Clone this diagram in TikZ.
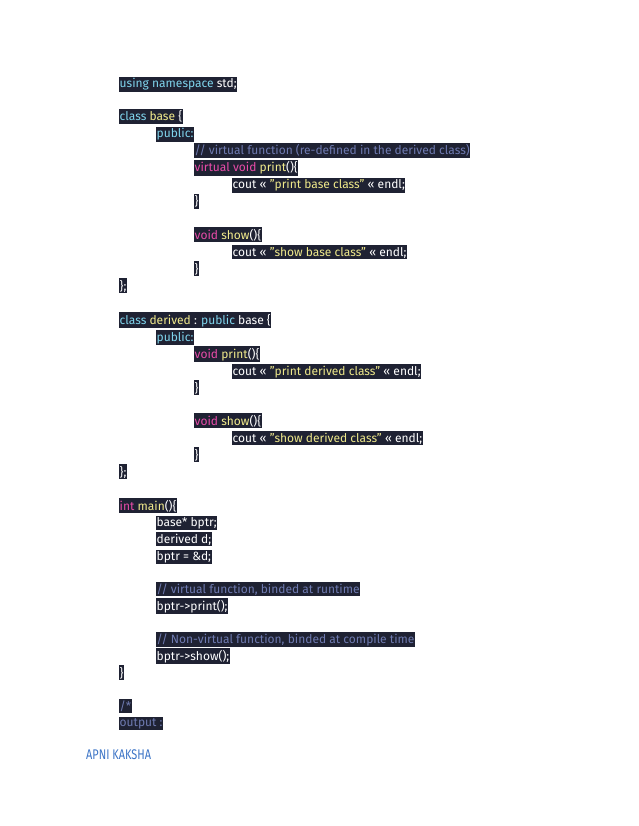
\documentclass[tikz,border=0pt]{standalone}
\usepackage{fontspec}
\setmainfont{Fira Sans}
\usepackage{graphicx}
\definecolor{bgc}{HTML}{1F2233}
\definecolor{kw}{HTML}{7FD4EC}
\definecolor{nm}{HTML}{F2EB8C}
\definecolor{pk}{HTML}{E84BA8}
\definecolor{cm}{HTML}{6E7AB0}
\definecolor{st}{HTML}{EEE88A}
\definecolor{ak}{HTML}{3C74C6}
\newcommand{\cKw}[1]{\textcolor{kw}{#1}}
\newcommand{\cNm}[1]{\textcolor{nm}{#1}}
\newcommand{\cPk}[1]{\textcolor{pk}{#1}}
\newcommand{\cCm}[1]{\textcolor{cm}{#1}}
\newcommand{\cSt}[1]{\textcolor{st}{#1}}
\begin{document}
\begin{tikzpicture}[x=1pt,y=-1pt,
  cl/.style={anchor=base west,fill=bgc,text=white,inner xsep=0.5pt,inner ysep=1.5pt,font=\fontsize{12}{14}\selectfont}]
\useasboundingbox (0,0) rectangle (638,826);
\def\a{119}\def\b{156}\def\c{194}\def\d{232}
\node[cl] (l1) at (\a,88) {\cKw{using namespace} std;};
\node[cl] (l2) at (\a,121) {\cKw{class} \cNm{base} \{};
\node[cl] (l3) at (\b,138) {\cKw{public:}};
\node[cl] (l4) at (\c,155) {\cCm{// virtual function (re-defined in the derived class)}};
\node[cl] (l5) at (\c,172) {\cPk{virtual void} \cNm{print}()\{};
\node[cl] (l6) at (\d,189) {cout << \cSt{"print base class"} << endl;};
\node[cl] (l7) at (\c,206) {\}};
\node[cl] (l8) at (\c,239) {\cPk{void} \cNm{show}()\{};
\node[cl] (l9) at (\d,256) {cout << \cSt{"show base class"} << endl;};
\node[cl] (l10) at (\c,273) {\}};
\node[cl] (l11) at (\a,290) {\};};
\node[cl] (l12) at (\a,324) {\cKw{class} \cNm{derived} : \cKw{public} base \{};
\node[cl] (l13) at (\b,341) {\cKw{public:}};
\node[cl] (l14) at (\c,358) {\cPk{void} \cNm{print}()\{};
\node[cl] (l15) at (\d,375) {cout << \cSt{"print derived class"} << endl;};
\node[cl] (l16) at (\c,392) {\}};
\node[cl] (l17) at (\c,425) {\cPk{void} \cNm{show}()\{};
\node[cl] (l18) at (\d,442) {cout << \cSt{"show derived class"} << endl;};
\node[cl] (l19) at (\c,459) {\}};
\node[cl] (l20) at (\a,476) {\};};
\node[cl] (l21) at (\a,510) {\cPk{int} \cNm{main}()\{};
\node[cl] (l22) at (\b,526) {base* bptr;};
\node[cl] (l23) at (\b,543) {derived d;};
\node[cl] (l24) at (\b,560) {bptr = \&d;};
\node[cl] (l25) at (\b,593) {\cCm{// virtual function, binded at runtime}};
\node[cl] (l26) at (\b,610) {bptr->print();};
\node[cl] (l27) at (\b,643) {\cCm{// Non-virtual function, binded at compile time}};
\node[cl] (l28) at (\b,660) {bptr->show();};
\node[cl] (l29) at (\a,677) {\}};
\node[cl] (l30) at (\a,710) {\cCm{/*}};
\node[cl] (l31) at (\a,726) {\cCm{output :}};
\node[anchor=base west,inner sep=0pt,text=ak,font=\fontsize{14}{16}\selectfont] (ak) at (86,759) {\scalebox{0.78}[1]{APNI KAKSHA}};
\end{tikzpicture}
\end{document}
